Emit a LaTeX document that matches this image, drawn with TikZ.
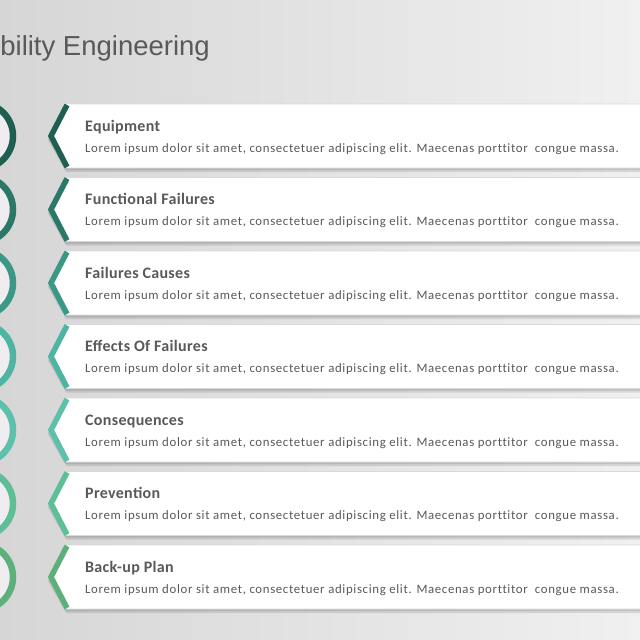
\documentclass[tikz,border=0pt]{standalone}
\usepackage{fontspec}
\setmainfont{Carlito}
\newfontfamily\titlefont{Liberation Sans}
\newfontfamily\headfont[LetterSpace=2]{Carlito}
\newfontfamily\bodyfont[LetterSpace=5.2,Ligatures=NoCommon]{Carlito}
\usetikzlibrary{positioning,calc}

\definecolor{bgdark}{HTML}{D6D6D6}
\definecolor{bglight}{HTML}{F0F0F0}
\definecolor{txtgray}{HTML}{595959}
\definecolor{ringfill}{HTML}{F0EDF0}
\definecolor{rowa}{HTML}{1F5F52}
\definecolor{rowb}{HTML}{2A7868}
\definecolor{rowc}{HTML}{3A9885}
\definecolor{rowd}{HTML}{4DB5A2}
\definecolor{rowe}{HTML}{5CC0AA}
\definecolor{rowf}{HTML}{5CBF95}
\definecolor{rowg}{HTML}{5DB07A}

\tikzset{
  banner/.style={fill=white, draw=gray!30, line width=0.6pt},
  chevron/.style={line width=5.5pt, line join=miter},
  ring/.style={circle, line width=6.5pt, minimum size=66pt, inner sep=0pt, fill=ringfill},
  headline/.style={anchor=base west, inner sep=0pt, text=txtgray,
    font=\headfont\bfseries\fontsize{16}{18}\selectfont},
  bodytext/.style={anchor=base west, inner sep=0pt, text=txtgray,
    font=\bodyfont\fontsize{12.8}{14}\selectfont},
}

\begin{document}
\begin{tikzpicture}[x=1pt,y=-1pt]
  \useasboundingbox (0,0) rectangle (640,640);
  \shade[left color=bgdark, right color=bglight] (0,0) rectangle (640,640);

  % title, cut off at the left edge
  \node[anchor=base east, inner sep=0pt, text=txtgray,
    font=\titlefont\fontsize{27.5}{30}\selectfont] (title) at (210,55) {bility Engineering};

  \foreach \name/\col [count=\i] in {Equipment/rowa, Functional Failures/rowb,
      Failures Causes/rowc, Effects Of Failures/rowd, Consequences/rowe,
      Prevention/rowf, Back-up Plan/rowg}{
    \pgfmathsetmacro\t{104+73.5*(\i-1)}
    % shadow
    \fill[black, opacity=0.10] (66,\t+4) -- (660,\t+4) -- (660,\t+68) -- (66,\t+68) -- (48,\t+36) -- cycle;
    \fill[black, opacity=0.10] (66,\t+2) -- (660,\t+2) -- (660,\t+66) -- (66,\t+66) -- (48,\t+34) -- cycle;
    % banner
    \draw[banner] (66,\t) -- (660,\t) -- (660,\t+64) -- (66,\t+64) -- (48,\t+32) -- cycle;
    \draw[chevron, draw=\col] (67,\t+1) -- (51,\t+32) -- (67,\t+63);
    % ring
    \node[ring, draw=\col] (ring\i) at (-20,\t+32) {};
    % texts
    \node[headline] (head\i) at (85,\t+27) {\name};
    \node[bodytext] (body\i) at ([yshift=-21pt]head\i.base west)
      {Lorem ipsum dolor sit amet, consectetuer adipiscing elit. Maecenas porttitor\ \ congue massa.};
  }
\end{tikzpicture}
\end{document}
